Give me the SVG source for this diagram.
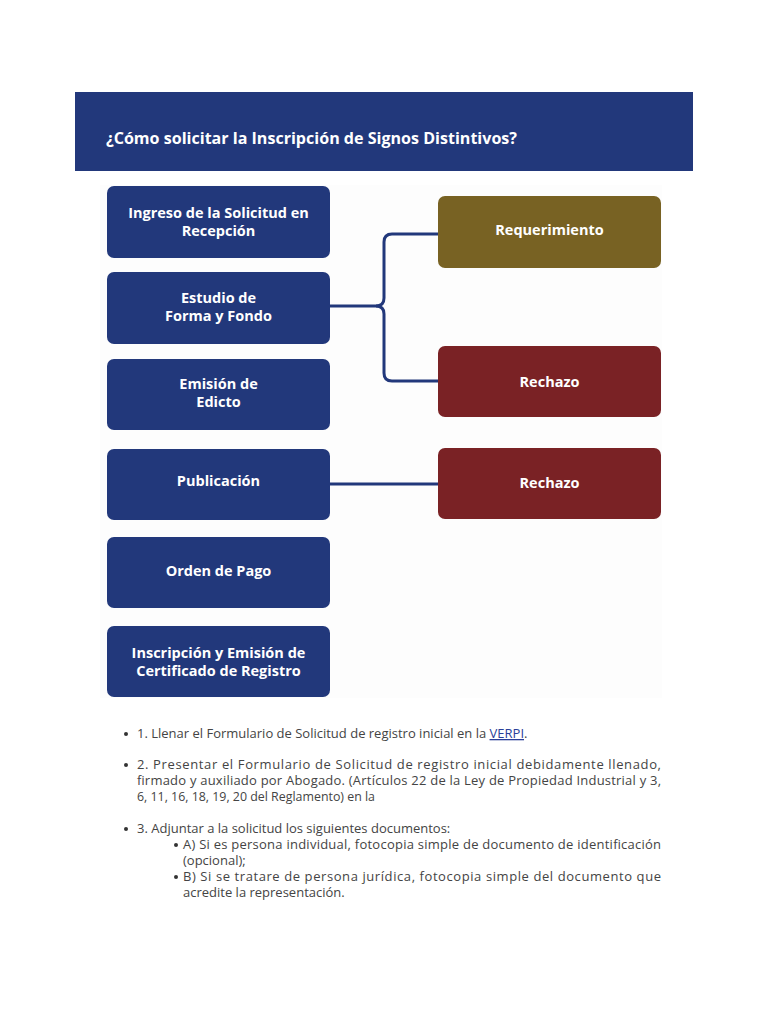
<svg xmlns="http://www.w3.org/2000/svg" width="768" height="1024" viewBox="0 0 768 1024">
<style>
.box{rx:7px;ry:7px}
.blue{fill:#22387b}
.olive{fill:#786223}
.red{fill:#7a2225}
.bt{font-family:"Open Sans","Noto Sans",sans-serif;font-weight:700;font-size:14.5px;fill:#ffffff;text-anchor:middle}
.conn{fill:none;stroke:#22387b;stroke-width:3}
.tx{font-family:"Open Sans","Noto Sans",sans-serif;font-size:13px;fill:#444444}
.dot{fill:#333333}
</style>
<rect width="768" height="1024" fill="#ffffff"/>
<g id="header">
<rect x="75" y="92" width="618" height="79" fill="#22387b"/>
<text x="106" y="144" font-family="'Open Sans','Noto Sans',sans-serif" font-weight="700" font-size="16px" fill="#ffffff" textLength="411" lengthAdjust="spacingAndGlyphs">¿Cómo solicitar la Inscripción de Signos Distintivos?</text>
</g>
<rect x="100" y="185" width="562" height="513" fill="#fdfdfd"/>
<g id="connectors">
<path class="conn" d="M330 306 H376 Q384 306 384 298 V242 Q384 234 392 234 H438"/>
<path class="conn" d="M376 306 Q384 306 384 314 V373 Q384 381 392 381 H438"/>
<path class="conn" d="M330 484 H438"/>
</g>
<g id="n1"><rect class="box blue" x="107" y="186" width="223" height="72"/><text class="bt" x="218.5" y="218">Ingreso de la Solicitud en</text><text class="bt" x="218.5" y="236">Recepción</text></g>
<g id="n2"><rect class="box blue" x="107" y="272" width="223" height="72"/><text class="bt" x="218.5" y="303">Estudio de</text><text class="bt" x="218.5" y="321">Forma y Fondo</text></g>
<g id="n3"><rect class="box blue" x="107" y="359" width="223" height="71"/><text class="bt" x="218.5" y="389">Emisión de</text><text class="bt" x="218.5" y="407">Edicto</text></g>
<g id="n4"><rect class="box blue" x="107" y="449" width="223" height="71"/><text class="bt" x="218.5" y="486">Publicación</text></g>
<g id="n5"><rect class="box blue" x="107" y="537" width="223" height="71"/><text class="bt" x="218.5" y="576">Orden de Pago</text></g>
<g id="n6"><rect class="box blue" x="107" y="626" width="223" height="71"/><text class="bt" x="218.5" y="658">Inscripción y Emisión de</text><text class="bt" x="218.5" y="676">Certificado de Registro</text></g>
<g id="r1"><rect class="box olive" x="438" y="196" width="223" height="72"/><text class="bt" x="549.5" y="235">Requerimiento</text></g>
<g id="r2"><rect class="box red" x="438" y="346" width="223" height="71"/><text class="bt" x="549.5" y="387">Rechazo</text></g>
<g id="r3"><rect class="box red" x="438" y="448" width="223" height="71"/><text class="bt" x="549.5" y="488">Rechazo</text></g>
<g id="list">
<circle class="dot" cx="126" cy="734" r="2"/>
<text class="tx" x="137" y="738">1. Llenar el Formulario de Solicitud de registro inicial en la <tspan fill="#2b3f99" text-decoration="underline">VERPI</tspan>.</text>
<circle class="dot" cx="126" cy="765" r="2"/>
<text class="tx" x="137" y="769" textLength="524" lengthAdjust="spacing">2. Presentar el Formulario de Solicitud de registro inicial debidamente llenado,</text>
<text class="tx" x="137" y="785" textLength="524" lengthAdjust="spacing">firmado y auxiliado por Abogado. (Artículos 22 de la Ley de Propiedad Industrial y 3,</text>
<text class="tx" x="137" y="801" textLength="238" lengthAdjust="spacingAndGlyphs">6, 11, 16, 18, 19, 20 del Reglamento) en la</text>
<circle class="dot" cx="126" cy="829" r="2"/>
<text class="tx" x="137" y="833">3. Adjuntar a la solicitud los siguientes documentos:</text>
<circle class="dot" cx="176" cy="845" r="2"/>
<text class="tx" x="183" y="849" textLength="478" lengthAdjust="spacing">A) Si es persona individual, fotocopia simple de documento de identificación</text>
<text class="tx" x="183" y="865">(opcional);</text>
<circle class="dot" cx="176" cy="877" r="2"/>
<text class="tx" x="183" y="881" textLength="478" lengthAdjust="spacing">B) Si se tratare de persona jurídica, fotocopia simple del documento que</text>
<text class="tx" x="183" y="897">acredite la representación.</text>
</g>
</svg>
